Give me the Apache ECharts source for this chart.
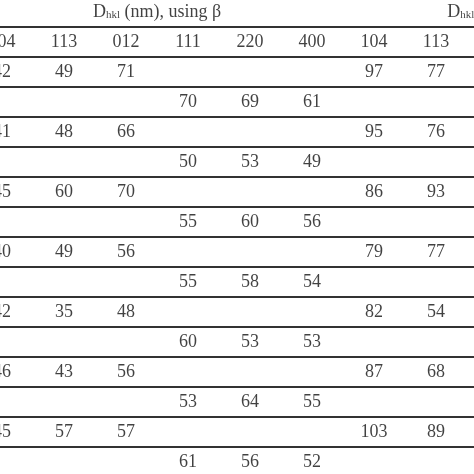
<!DOCTYPE html>
<html><head><meta charset="utf-8">
<script src="https://cdn.jsdelivr.net/npm/echarts@6/dist/echarts.min.js"></script>
<style>html,body{margin:0;padding:0;background:#fff}#c{width:474px;height:474px}</style>
</head><body><div id="c"></div>
<script>
var colLabels = ['104','113','012','111','220','400','104','113'];
// rows 1..14, null = empty cell
var col104a = [42,null,41,null,45,null,40,null,42,null,46,null,45,null];
var col113a = [49,null,48,null,60,null,49,null,35,null,43,null,57,null];
var col012 = [71,null,66,null,70,null,56,null,48,null,56,null,57,null];
var col111 = [null,70,null,50,null,55,null,55,null,60,null,53,null,61];
var col220 = [null,69,null,53,null,60,null,58,null,53,null,64,null,56];
var col400 = [null,61,null,49,null,56,null,54,null,53,null,55,null,52];
var col104b = [97,null,95,null,86,null,79,null,82,null,87,null,103,null];
var col113b = [77,null,76,null,93,null,77,null,54,null,68,null,89,null];
var cols = [col104a,col113a,col012,col111,col220,col400,col104b,col113b];

var cells = [];
colLabels.forEach(function(l,i){ cells.push([i,0,l]); });
cols.forEach(function(c,i){ c.forEach(function(v,r){ if(v!==null) cells.push([i,r+1,String(v)]); }); });
var ruleRows = [];
for (var k=0;k<15;k++) ruleRows.push(k-0.5);

var chart = echarts.init(document.getElementById('c'));
chart.setOption({
  animation:false,
  grid:{left:0,right:0,top:0,bottom:0},
  xAxis:{type:'value',min:-2/62,max:472/62,show:false},
  yAxis:{type:'value',min:-1.4,max:14.4,inverse:true,show:false},
  series:[
    {type:'scatter',symbolSize:0,data:cells,
     label:{show:true,position:'inside',formatter:function(p){return p.data[2];},
       color:'#111',fontFamily:'Liberation Serif',fontSize:18},
     markLine:{silent:true,symbol:'none',label:{show:false},
       lineStyle:{color:'#333',width:2,type:'solid'},
       data:ruleRows.map(function(y){return {yAxis:y};})}
    },
    {type:'scatter',symbolSize:0,
     data:[[2.5,-1,'h1'],[7.4,-1,'h2']],
     label:{show:true,position:'inside',
       formatter:function(p){return p.data[2]==='h1' ? '{d|D}{s|hkl}{d| (nm), using β}' : '{d|D}{s|hkl}';},
       rich:{d:{fontFamily:'Liberation Serif',fontSize:18,color:'#111'},
             s:{fontFamily:'Liberation Serif',fontSize:11,color:'#111',padding:[6,0,0,0]}}
     }
    }
  ]
});
</script></body></html>
